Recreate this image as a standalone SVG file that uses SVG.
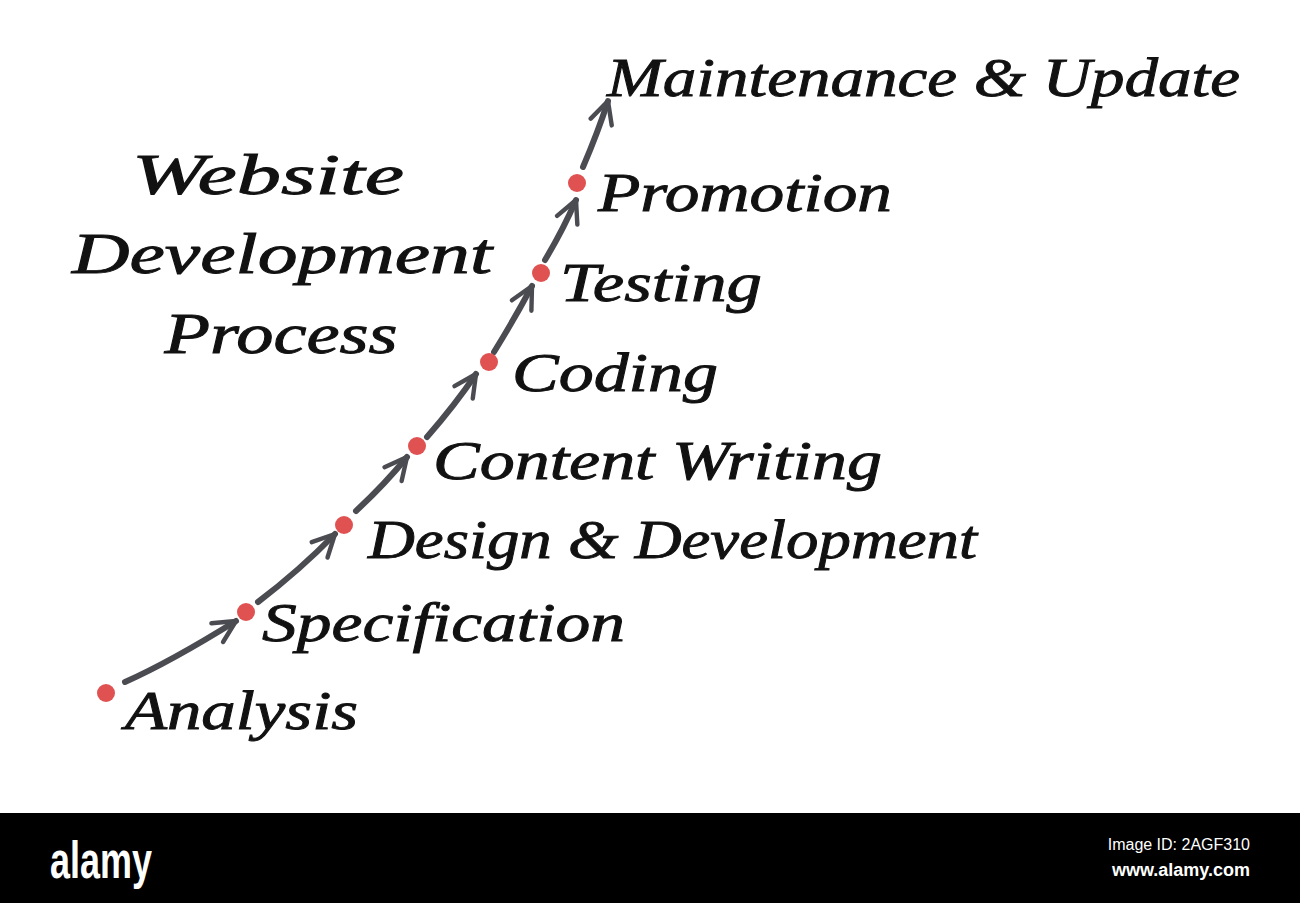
<svg xmlns="http://www.w3.org/2000/svg" width="1300" height="903" viewBox="0 0 1300 903">
<defs>
<style>
.lbl{font-family:"Liberation Serif","DejaVu Serif",serif;font-style:italic;font-size:54px;fill:#111;stroke:#111;stroke-width:0.9;}
.ttl{font-family:"Liberation Serif","DejaVu Serif",serif;font-style:italic;font-size:56px;fill:#111;stroke:#111;stroke-width:0.9;}
.dot{fill:#e05252;}
.arr{fill:none;stroke:#4b4b52;stroke-width:6;stroke-linecap:round;stroke-linejoin:round;marker-end:url(#chev);}
.wm{font-family:"Liberation Sans","DejaVu Sans",sans-serif;fill:#fff;}
</style>
<marker id="chev" viewBox="0 0 10 10" refX="9" refY="5" markerWidth="4.6" markerHeight="4.6" orient="auto" markerUnits="strokeWidth">
<path d="M1,1 L9,5 L1,9" fill="none" stroke="#4b4b52" stroke-width="1.6" stroke-linecap="round" stroke-linejoin="round"/>
</marker>
</defs>
<rect width="1300" height="903" fill="#fff"/>
<g id="title">
<text class="ttl" x="268" y="194" text-anchor="middle" textLength="272" lengthAdjust="spacingAndGlyphs">Website</text>
<text class="ttl" x="282" y="273" text-anchor="middle" textLength="420" lengthAdjust="spacingAndGlyphs">Development</text>
<text class="ttl" x="281" y="353" text-anchor="middle" textLength="233" lengthAdjust="spacingAndGlyphs">Process</text>
</g>
<g id="connectors">
<path class="arr" d="M125,682 Q170,662 236,621"/>
<path class="arr" d="M258,602 Q300,570 335,534"/>
<path class="arr" d="M356,511 Q385,484 407,457"/>
<path class="arr" d="M427,437 Q455,405 476,374"/>
<path class="arr" d="M494,352 Q515,318 532,286"/>
<path class="arr" d="M545,260 Q563,230 576,200"/>
<path class="arr" d="M583,167 Q598,132 608,101"/>
</g>
<g id="n-analysis"><circle class="dot" cx="106" cy="693" r="9"/><text class="lbl" x="125" y="729" textLength="233" lengthAdjust="spacingAndGlyphs">Analysis</text></g>
<g id="n-specification"><circle class="dot" cx="246" cy="612" r="9"/><text class="lbl" x="262" y="641" textLength="363" lengthAdjust="spacingAndGlyphs">Specification</text></g>
<g id="n-design"><circle class="dot" cx="344" cy="525" r="9"/><text class="lbl" x="368" y="558" textLength="609" lengthAdjust="spacingAndGlyphs">Design &amp; Development</text></g>
<g id="n-content"><circle class="dot" cx="417" cy="446" r="9"/><text class="lbl" x="433" y="479" textLength="449" lengthAdjust="spacingAndGlyphs">Content Writing</text></g>
<g id="n-coding"><circle class="dot" cx="489" cy="362" r="9"/><text class="lbl" x="512" y="391" textLength="206" lengthAdjust="spacingAndGlyphs">Coding</text></g>
<g id="n-testing"><circle class="dot" cx="541" cy="273" r="9"/><text class="lbl" x="560" y="301" textLength="202" lengthAdjust="spacingAndGlyphs">Testing</text></g>
<g id="n-promotion"><circle class="dot" cx="577" cy="183" r="9"/><text class="lbl" x="598" y="211" textLength="294" lengthAdjust="spacingAndGlyphs">Promotion</text></g>
<g id="n-maintenance"><text class="lbl" x="607" y="96" textLength="633" lengthAdjust="spacingAndGlyphs">Maintenance &amp; Update</text></g>
<g id="watermark">
<rect x="0" y="813" width="1300" height="90" fill="#000"/>
<text class="wm" x="50" y="878" font-size="52" font-weight="bold" textLength="102" lengthAdjust="spacingAndGlyphs">alamy</text>
<text class="wm" x="1250" y="850" font-size="16" text-anchor="end">Image ID: 2AGF310</text>
<text class="wm" x="1250" y="876" font-size="18" font-weight="bold" text-anchor="end">www.alamy.com</text>
</g>
</svg>
